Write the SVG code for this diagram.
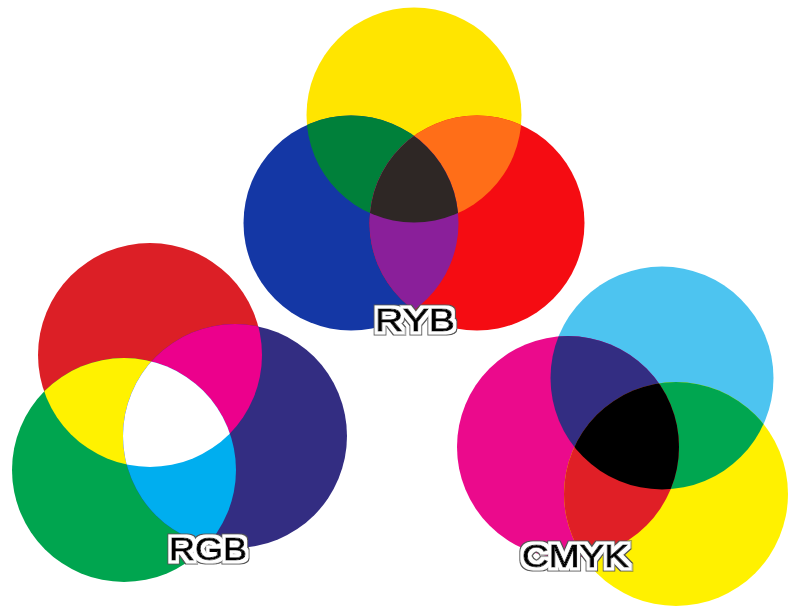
<svg xmlns="http://www.w3.org/2000/svg" width="800" height="614" viewBox="0 0 800 614">
<style>
.lbl{font-family:"Liberation Sans",Arial,sans-serif;font-size:32px;fill:#000;stroke:#000;stroke-width:0.9px;filter:url(#halo)}
</style>
<defs>
<filter id="halo" x="-20%" y="-40%" width="140%" height="180%">
<feMorphology in="SourceAlpha" operator="dilate" radius="3.8" result="d1"/>
<feFlood flood-color="#555"/>
<feComposite in2="d1" operator="in" result="outer"/>
<feMorphology in="SourceAlpha" operator="dilate" radius="3.1" result="d2"/>
<feFlood flood-color="#fff"/>
<feComposite in2="d2" operator="in" result="inner"/>
<feMerge><feMergeNode in="outer"/><feMergeNode in="inner"/><feMergeNode in="SourceGraphic"/></feMerge>
</filter>
<clipPath id="cY1"><circle cx="414" cy="115" r="107.5"/></clipPath>
<clipPath id="cB1"><circle cx="351" cy="223" r="107.5"/></clipPath>
<clipPath id="cR1"><circle cx="477" cy="223" r="107.5"/></clipPath>
<clipPath id="cR2"><circle cx="150" cy="355" r="112"/></clipPath>
<clipPath id="cG2"><circle cx="124" cy="470" r="112"/></clipPath>
<clipPath id="cB2"><circle cx="235" cy="436" r="112"/></clipPath>
<clipPath id="cC3"><circle cx="662" cy="378" r="111.5"/></clipPath>
<clipPath id="cM3"><circle cx="568" cy="447" r="111"/></clipPath>
<clipPath id="cY3"><circle cx="676" cy="494" r="112"/></clipPath>
</defs>
<rect width="800" height="614" fill="#fff"/>

<g id="ryb">
<circle cx="414" cy="115" r="107.5" fill="#FFE500"/>
<circle cx="351" cy="223" r="107.5" fill="#1437A5"/>
<circle cx="477" cy="223" r="107.5" fill="#F50C12"/>
<circle cx="414" cy="115" r="107.5" fill="#00803A" clip-path="url(#cB1)"/>
<circle cx="414" cy="115" r="107.5" fill="#FF6E18" clip-path="url(#cR1)"/>
<circle cx="351" cy="223" r="107.5" fill="#8A1F9A" clip-path="url(#cR1)"/>
<g clip-path="url(#cY1)"><circle cx="351" cy="223" r="107.5" fill="#2E2725" clip-path="url(#cR1)"/></g>
<text class="lbl" x="375" y="331" textLength="80" lengthAdjust="spacingAndGlyphs">RYB</text>
</g>

<g id="rgb">
<circle cx="150" cy="355" r="112" fill="#DC1F26"/>
<circle cx="124" cy="470" r="112" fill="#00A54F"/>
<circle cx="235" cy="436" r="112" fill="#332D82"/>
<circle cx="150" cy="355" r="112" fill="#FFF200" clip-path="url(#cG2)"/>
<circle cx="150" cy="355" r="112" fill="#EC008C" clip-path="url(#cB2)"/>
<circle cx="124" cy="470" r="112" fill="#00AEEF" clip-path="url(#cB2)"/>
<g clip-path="url(#cR2)"><circle cx="124" cy="470" r="112" fill="#FFFFFF" clip-path="url(#cB2)"/></g>
<text class="lbl" x="169" y="560" textLength="78" lengthAdjust="spacingAndGlyphs">RGB</text>
</g>

<g id="cmyk">
<circle cx="662" cy="378" r="111.5" fill="#4DC4F0"/>
<circle cx="568" cy="447" r="111" fill="#EB0A8C"/>
<circle cx="676" cy="494" r="112" fill="#FFF100"/>
<circle cx="662" cy="378" r="111.5" fill="#332D82" clip-path="url(#cM3)"/>
<circle cx="662" cy="378" r="111.5" fill="#00A650" clip-path="url(#cY3)"/>
<circle cx="568" cy="447" r="111" fill="#E01F26" clip-path="url(#cY3)"/>
<g clip-path="url(#cC3)"><circle cx="568" cy="447" r="111" fill="#000000" clip-path="url(#cY3)"/></g>
<text class="lbl" x="522" y="567" font-size="33" textLength="107" lengthAdjust="spacingAndGlyphs">CMYK</text>
</g>
</svg>
